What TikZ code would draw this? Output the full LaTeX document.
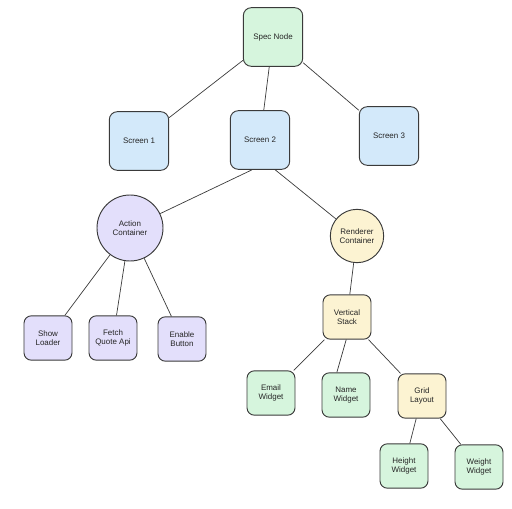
\documentclass[tikz,border=0pt]{standalone}
\usepackage{fontspec}
\setmainfont{Liberation Sans}
\usepackage{xcolor}
\usepackage{tikz}

\definecolor{specgreen}{HTML}{D6F5DD}
\definecolor{screenblue}{HTML}{D3E9FA}
\definecolor{actpurple}{HTML}{E3DFFB}
\definecolor{rendyellow}{HTML}{FCF3D2}
\definecolor{edgegray}{HTML}{3A3A3A}

\begin{document}
\begin{tikzpicture}[x=0.03cm, y=-0.03cm,
    every node/.style={font=\fontsize{6.8}{8.2}\selectfont, align=center, text=black!85},
    bigbox/.style={shape=rectangle, rounded corners=0.24cm, draw=edgegray, line width=0.8pt, minimum width=1.78cm, minimum height=1.76cm},
    smallbox/.style={shape=rectangle, rounded corners=0.22cm, draw=edgegray, line width=0.8pt, minimum width=1.44cm, minimum height=1.33cm},
    roundnode/.style={shape=circle, draw=edgegray, line width=0.8pt},
    link/.style={draw=edgegray, line width=0.6pt}]
    \useasboundingbox (0,0) rectangle (512,508);

    % top level
    \node[bigbox, fill=specgreen] (spec) at (273, 37) {Spec Node};
    \node[bigbox, fill=screenblue] (scr1) at (139, 141) {Screen 1};
    \node[bigbox, fill=screenblue] (scr2) at (260, 140) {Screen 2};
    \node[bigbox, fill=screenblue] (scr3) at (389, 136) {Screen 3};

    % containers
    \node[roundnode, fill=actpurple, minimum size=1.98cm] (action) at (130, 228) {Action\\Container};
    \node[roundnode, fill=rendyellow, minimum size=1.6cm] (renderer) at (357, 236) {Renderer\\Container};

    % actions
    \node[smallbox, fill=actpurple] (loader) at (48, 338) {Show\\Loader};
    \node[smallbox, fill=actpurple] (fetch) at (113, 338) {Fetch\\Quote Api};
    \node[smallbox, fill=actpurple] (enable) at (182, 339) {Enable\\Button};

    % renderer tree
    \node[smallbox, fill=rendyellow] (vstack) at (347, 317) {Vertical\\Stack};
    \node[smallbox, fill=specgreen] (email) at (271, 393) {Email\\Widget};
    \node[smallbox, fill=specgreen] (name) at (346, 395) {Name\\Widget};
    \node[smallbox, fill=rendyellow] (grid) at (422, 396) {Grid\\Layout};
    \node[smallbox, fill=specgreen] (height) at (404, 466) {Height\\Widget};
    \node[smallbox, fill=specgreen] (weight) at (479, 467) {Weight\\Widget};

    \draw[link] (spec) -- (scr1);
    \draw[link] (spec) -- (scr2);
    \draw[link] (spec) -- (scr3);
    \draw[link] (scr2.-105) -- (action);
    \draw[link] (scr2.-63) -- (renderer);
    \draw[link] (action) -- (loader);
    \draw[link] (action) -- (fetch);
    \draw[link] (action) -- (enable);
    \draw[link] (renderer) -- (vstack);
    \draw[link] (vstack) -- (email);
    \draw[link] (vstack.-92) -- (name.112);
    \draw[link] (vstack) -- (grid);
    \draw[link] (grid) -- (height);
    \draw[link] (grid) -- (weight);
\end{tikzpicture}
\end{document}
